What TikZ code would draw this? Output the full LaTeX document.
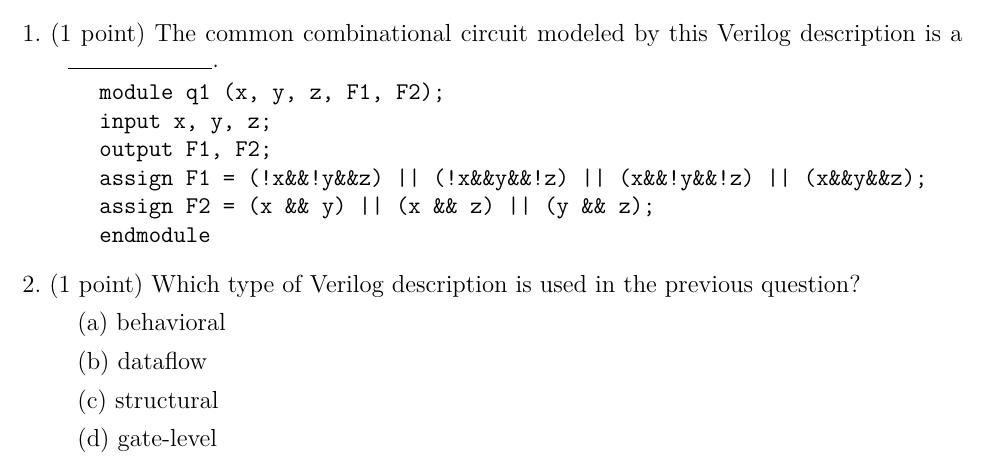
\documentclass[tikz,border=0pt]{standalone}
\begin{document}
\begin{tikzpicture}[x=0.5pt,y=-0.5pt,
  txt/.style={anchor=base west,inner sep=0pt,font=\fontsize{12.35}{14}\selectfont},
  code/.style={anchor=base west,inner sep=0pt,font=\fontsize{12}{14}\selectfont\ttfamily}]
\useasboundingbox (0,0) rectangle (982,464);
\node[txt] (q1) at (22,42) {\makebox[470pt][s]{1.\ (1 point) The common combinational circuit modeled by this Verilog description is a}};
\coordinate (u1) at (68,68); \coordinate (u2) at (212,68);
\draw[line width=0.4pt] (u1) -- (u2);
\node[txt] (dot) at (212,68) {.};
\node[code] (c1) at (99,100) {module q1 (x, y, z, F1, F2);};
\node[code] (c2) at (99,129) {input x, y, z;};
\node[code] (c3) at (99,157) {output F1, F2;};
\node[code] (c4) at (99,186) {assign F1 = (!x\&\&!y\&\&z) || (!x\&\&y\&\&!z) || (x\&\&!y\&\&!z) || (x\&\&y\&\&z);};
\node[code] (c5) at (99,214) {assign F2 = (x \&\& y) || (x \&\& z) || (y \&\& z);};
\node[code] (c6) at (99,243) {endmodule};
\node[txt] (q2) at (22,293) {2.\ (1 point) Which type of Verilog description is used in the previous question?};
\node[txt] (a) at (77,331) {(a)\ behavioral};
\node[txt] (b) at (77,370) {(b)\ dataflow};
\node[txt] (c) at (77,409) {(c)\ structural};
\node[txt] (d) at (77,447) {(d)\ gate-level};
\end{tikzpicture}
\end{document}
